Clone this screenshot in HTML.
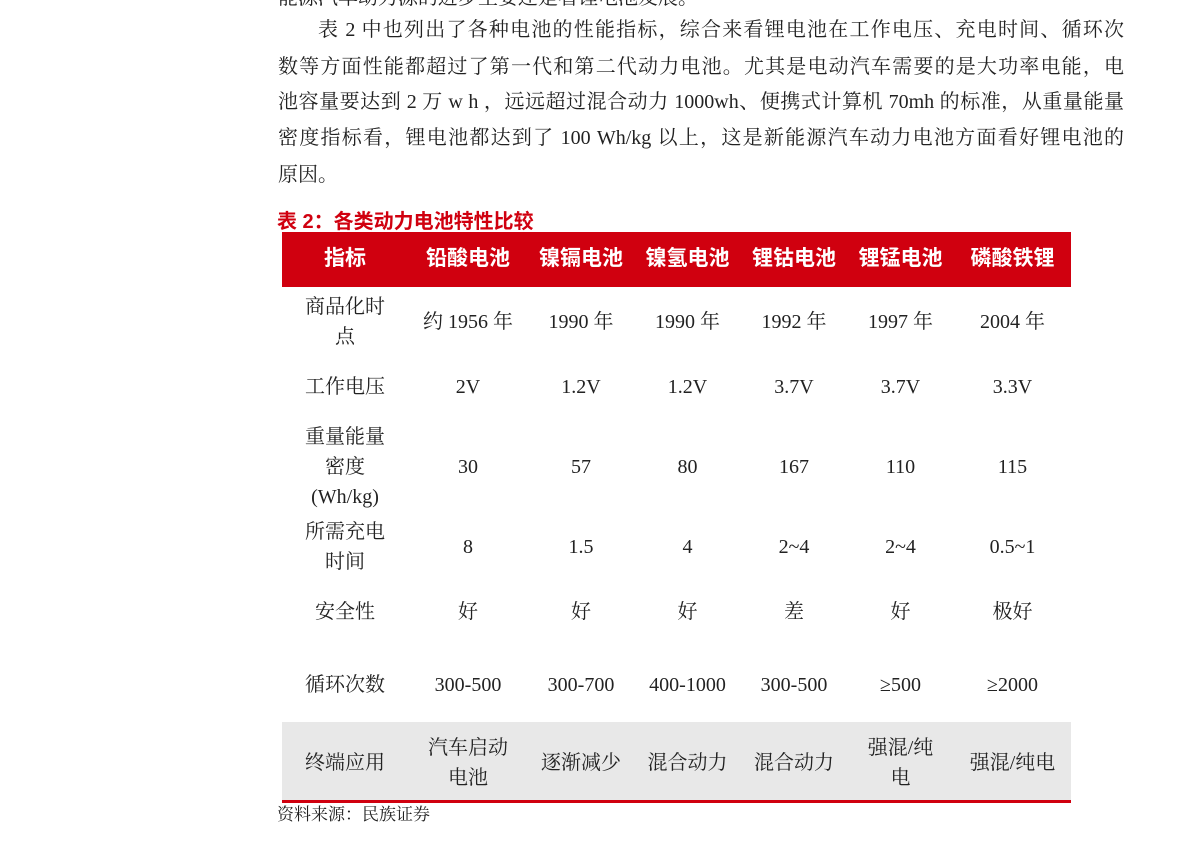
<!DOCTYPE html>
<html><head><meta charset="utf-8"><style>
body{margin:0;width:1191px;height:844px;background:#fff;position:relative;overflow:hidden;font-family:"Liberation Serif","Noto Serif CJK SC",serif;color:#222}
.l{position:absolute;left:278px;width:846px;font-size:20px;line-height:24px;text-align:justify;text-align-last:justify;white-space:nowrap}
.a{position:absolute;text-align:center;font-size:20px;line-height:30px;transform:translateY(-50%)}
.h{position:absolute;top:244px;height:30px;line-height:30px;text-align:center;color:#fff;font-weight:bold;font-size:21px;font-family:"Liberation Sans","Noto Sans CJK SC",sans-serif}
</style></head><body>
<div class="l" style="top:-14px;text-align-last:left">能源汽车动力源的进步主要还是看锂电池发展。</div>
<div class="l" style="top:18px;left:318px;width:806px">表 2 中也列出了各种电池的性能指标，综合来看锂电池在工作电压、充电时间、循环次</div>
<div class="l" style="top:55px">数等方面性能都超过了第一代和第二代动力电池。尤其是电动汽车需要的是大功率电能，电</div>
<div class="l" style="top:90px">池容量要达到 2 万 w h ，远远超过混合动力 1000wh、便携式计算机 70mh 的标准，从重量能量</div>
<div class="l" style="top:126px">密度指标看，锂电池都达到了 100 Wh/kg 以上，这是新能源汽车动力电池方面看好锂电池的</div>
<div class="l" style="top:163px;text-align-last:left">原因。</div>
<div style="position:absolute;left:277px;top:205px;color:#d0000f;font-weight:bold;font-size:20px;font-family:'Liberation Sans','Noto Sans CJK SC',sans-serif">表 2：各类动力电池特性比较</div>
<div style="position:absolute;left:282px;top:232px;width:789px;height:55px;background:#d0000f"></div>
<div style="position:absolute;left:282px;top:722px;width:789px;height:78px;background:#e8e8e8"></div>
<div style="position:absolute;left:282px;top:800px;width:789px;height:3px;background:#d0000f"></div>
<div class="h" style="left:282px;width:126px">指标</div>
<div class="h" style="left:408px;width:120px">铅酸电池</div>
<div class="h" style="left:528px;width:106px">镍镉电池</div>
<div class="h" style="left:634px;width:107px">镍氢电池</div>
<div class="h" style="left:741px;width:106px">锂钴电池</div>
<div class="h" style="left:847px;width:107px">锂锰电池</div>
<div class="h" style="left:954px;width:117px">磷酸铁锂</div>
<div id="rows"></div>
<script>
var cols=[[282,126],[408,120],[528,106],[634,107],[741,106],[847,107],[954,117]];
var rows=[
[322,["商品化时<br>点","约 1956 年","1990 年","1990 年","1992 年","1997 年","2004 年"]],
[387,["工作电压","2V","1.2V","1.2V","3.7V","3.7V","3.3V"]],
[467,["重量能量<br>密度<br>(Wh/kg)","30","57","80","167","110","115"]],
[547,["所需充电<br>时间","8","1.5","4","2~4","2~4","0.5~1"]],
[612,["安全性","好","好","好","差","好","极好"]],
[685,["循环次数","300-500","300-700","400-1000","300-500","≥500","≥2000"]],
[763,["终端应用","汽车启动<br>电池","逐渐减少","混合动力","混合动力","强混/纯<br>电","强混/纯电"]]];
var h="";
rows.forEach(function(r){r[1].forEach(function(t,i){h+='<div class="a" style="top:'+r[0]+'px;left:'+cols[i][0]+'px;width:'+cols[i][1]+'px">'+t+'</div>';});});
document.getElementById("rows").innerHTML=h;
</script>
<div style="position:absolute;left:277px;top:804px;font-size:17px;line-height:22px">资料来源：民族证券</div>
</body></html>
